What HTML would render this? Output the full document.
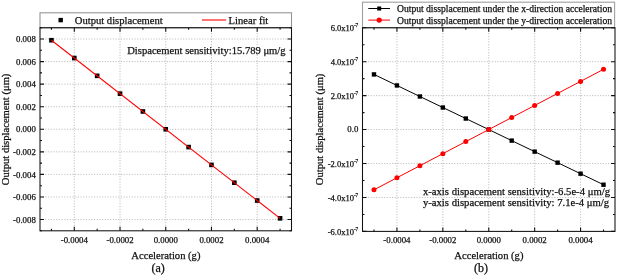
<!DOCTYPE html>
<html><head><meta charset="utf-8"><style>svg{will-change:transform} html,body{margin:0;padding:0;background:#fff;width:617px;height:276px;overflow:hidden;position:relative}</style></head>
<body>
<svg width="617" height="276" viewBox="0 0 617 276" style="position:absolute;left:0;top:0">
<rect width="617" height="276" fill="#fff"/>
<g font-family='"Liberation Serif", serif' fill="#111">
<line x1="74.30" y1="27.75" x2="74.30" y2="230.80" stroke="#b4b4b4" stroke-width="0.9" stroke-dasharray="1.1 1.6"/>
<line x1="120.02" y1="27.75" x2="120.02" y2="230.80" stroke="#b4b4b4" stroke-width="0.9" stroke-dasharray="1.1 1.6"/>
<line x1="165.75" y1="27.75" x2="165.75" y2="230.80" stroke="#b4b4b4" stroke-width="0.9" stroke-dasharray="1.1 1.6"/>
<line x1="211.48" y1="27.75" x2="211.48" y2="230.80" stroke="#b4b4b4" stroke-width="0.9" stroke-dasharray="1.1 1.6"/>
<line x1="257.20" y1="27.75" x2="257.20" y2="230.80" stroke="#b4b4b4" stroke-width="0.9" stroke-dasharray="1.1 1.6"/>
<line x1="40.00" y1="219.52" x2="291.50" y2="219.52" stroke="#b4b4b4" stroke-width="0.9" stroke-dasharray="1.1 1.6"/>
<line x1="40.00" y1="196.96" x2="291.50" y2="196.96" stroke="#b4b4b4" stroke-width="0.9" stroke-dasharray="1.1 1.6"/>
<line x1="40.00" y1="174.40" x2="291.50" y2="174.40" stroke="#b4b4b4" stroke-width="0.9" stroke-dasharray="1.1 1.6"/>
<line x1="40.00" y1="151.84" x2="291.50" y2="151.84" stroke="#b4b4b4" stroke-width="0.9" stroke-dasharray="1.1 1.6"/>
<line x1="40.00" y1="129.28" x2="291.50" y2="129.28" stroke="#b4b4b4" stroke-width="0.9" stroke-dasharray="1.1 1.6"/>
<line x1="40.00" y1="106.71" x2="291.50" y2="106.71" stroke="#b4b4b4" stroke-width="0.9" stroke-dasharray="1.1 1.6"/>
<line x1="40.00" y1="84.15" x2="291.50" y2="84.15" stroke="#b4b4b4" stroke-width="0.9" stroke-dasharray="1.1 1.6"/>
<line x1="40.00" y1="61.59" x2="291.50" y2="61.59" stroke="#b4b4b4" stroke-width="0.9" stroke-dasharray="1.1 1.6"/>
<line x1="40.00" y1="39.03" x2="291.50" y2="39.03" stroke="#b4b4b4" stroke-width="0.9" stroke-dasharray="1.1 1.6"/>
<rect x="40.00" y="12.8" width="251.50" height="14.95" fill="none" stroke="#959595" stroke-width="1.1"/>
<path d="M74.30 230.80V226.80M74.30 27.75V31.75M120.02 230.80V226.80M120.02 27.75V31.75M165.75 230.80V226.80M165.75 27.75V31.75M211.48 230.80V226.80M211.48 27.75V31.75M257.20 230.80V226.80M257.20 27.75V31.75M51.43 230.80V228.80M51.43 27.75V29.75M97.16 230.80V228.80M97.16 27.75V29.75M142.89 230.80V228.80M142.89 27.75V29.75M188.61 230.80V228.80M188.61 27.75V29.75M234.34 230.80V228.80M234.34 27.75V29.75M280.07 230.80V228.80M280.07 27.75V29.75M40.00 219.52H44.00M291.50 219.52H287.50M40.00 196.96H44.00M291.50 196.96H287.50M40.00 174.40H44.00M291.50 174.40H287.50M40.00 151.84H44.00M291.50 151.84H287.50M40.00 129.28H44.00M291.50 129.28H287.50M40.00 106.71H44.00M291.50 106.71H287.50M40.00 84.15H44.00M291.50 84.15H287.50M40.00 61.59H44.00M291.50 61.59H287.50M40.00 39.03H44.00M291.50 39.03H287.50M40.00 230.80H42.00M291.50 230.80H289.50M40.00 208.24H42.00M291.50 208.24H289.50M40.00 185.68H42.00M291.50 185.68H289.50M40.00 163.12H42.00M291.50 163.12H289.50M40.00 140.56H42.00M291.50 140.56H289.50M40.00 117.99H42.00M291.50 117.99H289.50M40.00 95.43H42.00M291.50 95.43H289.50M40.00 72.87H42.00M291.50 72.87H289.50M40.00 50.31H42.00M291.50 50.31H289.50M40.00 27.75H42.00M291.50 27.75H289.50" stroke="#111" stroke-width="1.1" fill="none"/>
<rect x="40.00" y="27.75" width="251.50" height="203.05" fill="none" stroke="#111" stroke-width="1.05"/>
<rect x="49.13" y="37.92" width="4.6" height="4.6" fill="#000"/>
<rect x="72.00" y="55.73" width="4.6" height="4.6" fill="#000"/>
<rect x="94.86" y="73.54" width="4.6" height="4.6" fill="#000"/>
<rect x="117.72" y="91.35" width="4.6" height="4.6" fill="#000"/>
<rect x="140.59" y="109.16" width="4.6" height="4.6" fill="#000"/>
<rect x="163.45" y="126.98" width="4.6" height="4.6" fill="#000"/>
<rect x="186.31" y="144.79" width="4.6" height="4.6" fill="#000"/>
<rect x="209.18" y="162.60" width="4.6" height="4.6" fill="#000"/>
<rect x="232.04" y="180.41" width="4.6" height="4.6" fill="#000"/>
<rect x="254.90" y="198.22" width="4.6" height="4.6" fill="#000"/>
<rect x="277.77" y="216.03" width="4.6" height="4.6" fill="#000"/>
<line x1="51.43" y1="40.22" x2="280.07" y2="218.33" stroke="#f00" stroke-width="1.1"/>
<text stroke="#111" stroke-width="0.25" x="35.8" y="222.67" font-size="8.8" text-anchor="end">-0.008</text>
<text stroke="#111" stroke-width="0.25" x="35.8" y="200.11" font-size="8.8" text-anchor="end">-0.006</text>
<text stroke="#111" stroke-width="0.25" x="35.8" y="177.55" font-size="8.8" text-anchor="end">-0.004</text>
<text stroke="#111" stroke-width="0.25" x="35.8" y="154.99" font-size="8.8" text-anchor="end">-0.002</text>
<text stroke="#111" stroke-width="0.25" x="35.8" y="132.43" font-size="8.8" text-anchor="end">0.000</text>
<text stroke="#111" stroke-width="0.25" x="35.8" y="109.86" font-size="8.8" text-anchor="end">0.002</text>
<text stroke="#111" stroke-width="0.25" x="35.8" y="87.30" font-size="8.8" text-anchor="end">0.004</text>
<text stroke="#111" stroke-width="0.25" x="35.8" y="64.74" font-size="8.8" text-anchor="end">0.006</text>
<text stroke="#111" stroke-width="0.25" x="35.8" y="42.18" font-size="8.8" text-anchor="end">0.008</text>
<text stroke="#111" stroke-width="0.25" x="74.30" y="243" font-size="8.8" text-anchor="middle">-0.0004</text>
<text stroke="#111" stroke-width="0.25" x="120.02" y="243" font-size="8.8" text-anchor="middle">-0.0002</text>
<text stroke="#111" stroke-width="0.25" x="165.75" y="243" font-size="8.8" text-anchor="middle">0.0000</text>
<text stroke="#111" stroke-width="0.25" x="211.48" y="243" font-size="8.8" text-anchor="middle">0.0002</text>
<text stroke="#111" stroke-width="0.25" x="257.20" y="243" font-size="8.8" text-anchor="middle">0.0004</text>
<rect x="58.5" y="17.9" width="4.4" height="4.4" fill="#000"/>
<text stroke="#111" stroke-width="0.25" x="74.8" y="23.6" font-size="10.6">Output displacement</text>
<line x1="201.9" y1="20" x2="226.1" y2="20" stroke="#f00" stroke-width="1.1"/>
<text stroke="#111" stroke-width="0.25" x="228.6" y="23.5" font-size="10.6">Linear fit</text>
<text stroke="#111" stroke-width="0.25" x="127.2" y="54.1" font-size="10.6">Dispacement sensitivity:15.789 μm/g</text>
<text stroke="#111" stroke-width="0.25" x="165.9" y="258.5" font-size="10.6" text-anchor="middle">Acceleration (g)</text>
<text stroke="#111" stroke-width="0.25" x="158.2" y="272.1" font-size="12" text-anchor="middle">(a)</text>
<text stroke="#111" stroke-width="0.25" transform="translate(9.1 129.4) rotate(-90)" x="0" y="0" font-size="10.6" text-anchor="middle">Output displacement (μm)</text>
<line x1="396.93" y1="27.75" x2="396.93" y2="231.40" stroke="#b4b4b4" stroke-width="0.9" stroke-dasharray="1.1 1.6"/>
<line x1="442.84" y1="27.75" x2="442.84" y2="231.40" stroke="#b4b4b4" stroke-width="0.9" stroke-dasharray="1.1 1.6"/>
<line x1="488.75" y1="27.75" x2="488.75" y2="231.40" stroke="#b4b4b4" stroke-width="0.9" stroke-dasharray="1.1 1.6"/>
<line x1="534.66" y1="27.75" x2="534.66" y2="231.40" stroke="#b4b4b4" stroke-width="0.9" stroke-dasharray="1.1 1.6"/>
<line x1="580.57" y1="27.75" x2="580.57" y2="231.40" stroke="#b4b4b4" stroke-width="0.9" stroke-dasharray="1.1 1.6"/>
<line x1="362.50" y1="197.46" x2="615.00" y2="197.46" stroke="#b4b4b4" stroke-width="0.9" stroke-dasharray="1.1 1.6"/>
<line x1="362.50" y1="163.52" x2="615.00" y2="163.52" stroke="#b4b4b4" stroke-width="0.9" stroke-dasharray="1.1 1.6"/>
<line x1="362.50" y1="129.57" x2="615.00" y2="129.57" stroke="#b4b4b4" stroke-width="0.9" stroke-dasharray="1.1 1.6"/>
<line x1="362.50" y1="95.63" x2="615.00" y2="95.63" stroke="#b4b4b4" stroke-width="0.9" stroke-dasharray="1.1 1.6"/>
<line x1="362.50" y1="61.69" x2="615.00" y2="61.69" stroke="#b4b4b4" stroke-width="0.9" stroke-dasharray="1.1 1.6"/>
<rect x="362.50" y="2.2" width="252.10" height="25.55" fill="none" stroke="#a0a0a0" stroke-width="1.1"/>
<path d="M396.93 231.40V227.40M396.93 27.75V31.75M442.84 231.40V227.40M442.84 27.75V31.75M488.75 231.40V227.40M488.75 27.75V31.75M534.66 231.40V227.40M534.66 27.75V31.75M580.57 231.40V227.40M580.57 27.75V31.75M373.98 231.40V229.40M373.98 27.75V29.75M419.89 231.40V229.40M419.89 27.75V29.75M465.80 231.40V229.40M465.80 27.75V29.75M511.70 231.40V229.40M511.70 27.75V29.75M557.61 231.40V229.40M557.61 27.75V29.75M603.52 231.40V229.40M603.52 27.75V29.75M362.50 231.40H366.50M615.00 231.40H611.00M362.50 197.46H366.50M615.00 197.46H611.00M362.50 163.52H366.50M615.00 163.52H611.00M362.50 129.57H366.50M615.00 129.57H611.00M362.50 95.63H366.50M615.00 95.63H611.00M362.50 61.69H366.50M615.00 61.69H611.00M362.50 27.75H366.50M615.00 27.75H611.00M362.50 214.43H364.50M615.00 214.43H613.00M362.50 180.49H364.50M615.00 180.49H613.00M362.50 146.55H364.50M615.00 146.55H613.00M362.50 112.60H364.50M615.00 112.60H613.00M362.50 78.66H364.50M615.00 78.66H613.00M362.50 44.72H364.50M615.00 44.72H613.00" stroke="#111" stroke-width="1.1" fill="none"/>
<rect x="362.50" y="27.75" width="252.50" height="203.65" fill="none" stroke="#111" stroke-width="1.05"/>
<polyline points="373.98,74.42 396.93,85.45 419.89,96.48 442.84,107.51 465.80,118.54 488.75,129.57 511.70,140.61 534.66,151.64 557.61,162.67 580.57,173.70 603.52,184.73" fill="none" stroke="#000" stroke-width="1"/>
<rect x="371.78" y="72.22" width="4.4" height="4.4" fill="#000"/>
<rect x="394.73" y="83.25" width="4.4" height="4.4" fill="#000"/>
<rect x="417.69" y="94.28" width="4.4" height="4.4" fill="#000"/>
<rect x="440.64" y="105.31" width="4.4" height="4.4" fill="#000"/>
<rect x="463.60" y="116.34" width="4.4" height="4.4" fill="#000"/>
<rect x="486.55" y="127.37" width="4.4" height="4.4" fill="#000"/>
<rect x="509.50" y="138.41" width="4.4" height="4.4" fill="#000"/>
<rect x="532.46" y="149.44" width="4.4" height="4.4" fill="#000"/>
<rect x="555.41" y="160.47" width="4.4" height="4.4" fill="#000"/>
<rect x="578.37" y="171.50" width="4.4" height="4.4" fill="#000"/>
<rect x="601.32" y="182.53" width="4.4" height="4.4" fill="#000"/>
<polyline points="373.98,189.82 396.93,177.77 419.89,165.72 442.84,153.67 465.80,141.62 488.75,129.57 511.70,117.53 534.66,105.48 557.61,93.43 580.57,81.38 603.52,69.33" fill="none" stroke="#f00" stroke-width="1"/>
<circle cx="373.98" cy="189.82" r="2.5" fill="#f00"/>
<circle cx="396.93" cy="177.77" r="2.5" fill="#f00"/>
<circle cx="419.89" cy="165.72" r="2.5" fill="#f00"/>
<circle cx="442.84" cy="153.67" r="2.5" fill="#f00"/>
<circle cx="465.80" cy="141.62" r="2.5" fill="#f00"/>
<circle cx="488.75" cy="129.57" r="2.5" fill="#f00"/>
<circle cx="511.70" cy="117.53" r="2.5" fill="#f00"/>
<circle cx="534.66" cy="105.48" r="2.5" fill="#f00"/>
<circle cx="557.61" cy="93.43" r="2.5" fill="#f00"/>
<circle cx="580.57" cy="81.38" r="2.5" fill="#f00"/>
<circle cx="603.52" cy="69.33" r="2.5" fill="#f00"/>
<text stroke="#111" stroke-width="0.25" x="354.0" y="234.60" font-size="8.5" text-anchor="end">-6.0x10</text>
<text stroke="#111" stroke-width="0.25" x="353.9" y="230.70" font-size="5.2">-7</text>
<text stroke="#111" stroke-width="0.25" x="354.0" y="200.66" font-size="8.5" text-anchor="end">-4.0x10</text>
<text stroke="#111" stroke-width="0.25" x="353.9" y="196.76" font-size="5.2">-7</text>
<text stroke="#111" stroke-width="0.25" x="354.0" y="166.72" font-size="8.5" text-anchor="end">-2.0x10</text>
<text stroke="#111" stroke-width="0.25" x="353.9" y="162.82" font-size="5.2">-7</text>
<text stroke="#111" stroke-width="0.25" x="358.3" y="132.47" font-size="8.8" text-anchor="end">0.0</text>
<text stroke="#111" stroke-width="0.25" x="354.0" y="98.83" font-size="8.5" text-anchor="end">2.0x10</text>
<text stroke="#111" stroke-width="0.25" x="353.9" y="94.93" font-size="5.2">-7</text>
<text stroke="#111" stroke-width="0.25" x="354.0" y="64.89" font-size="8.5" text-anchor="end">4.0x10</text>
<text stroke="#111" stroke-width="0.25" x="353.9" y="60.99" font-size="5.2">-7</text>
<text stroke="#111" stroke-width="0.25" x="354.0" y="30.95" font-size="8.5" text-anchor="end">6.0x10</text>
<text stroke="#111" stroke-width="0.25" x="353.9" y="27.05" font-size="5.2">-7</text>
<text stroke="#111" stroke-width="0.25" x="396.93" y="243" font-size="8.8" text-anchor="middle">-0.0004</text>
<text stroke="#111" stroke-width="0.25" x="442.84" y="243" font-size="8.8" text-anchor="middle">-0.0002</text>
<text stroke="#111" stroke-width="0.25" x="488.75" y="243" font-size="8.8" text-anchor="middle">0.0000</text>
<text stroke="#111" stroke-width="0.25" x="534.66" y="243" font-size="8.8" text-anchor="middle">0.0002</text>
<text stroke="#111" stroke-width="0.25" x="580.57" y="243" font-size="8.8" text-anchor="middle">0.0004</text>
<line x1="368.3" y1="8.5" x2="390" y2="8.5" stroke="#000" stroke-width="1"/>
<rect x="377.2" y="6.5" width="4" height="4" fill="#000"/>
<line x1="368.3" y1="20.1" x2="390" y2="20.1" stroke="#f00" stroke-width="1"/>
<circle cx="379.2" cy="20.1" r="2.6" fill="#f00"/>
<text stroke="#111" stroke-width="0.25" x="397" y="12" font-size="9.6">Output dissplacement under the x-direction acceleration</text>
<text stroke="#111" stroke-width="0.25" x="397" y="24.1" font-size="9.6">Output dissplacement under the y-direction acceleration</text>
<text stroke="#111" stroke-width="0.25" x="422.9" y="195" font-size="10.68">x-axis dispacement sensitivity:-6.5e-4 μm/g</text>
<text stroke="#111" stroke-width="0.25" x="422.9" y="205.5" font-size="10.68">y-axis dispacement sensitivity: 7.1e-4 μm/g</text>
<text stroke="#111" stroke-width="0.25" x="488.9" y="258.9" font-size="10.6" text-anchor="middle">Acceleration (g)</text>
<text stroke="#111" stroke-width="0.25" x="480.9" y="272.1" font-size="12" text-anchor="middle">(b)</text>
<text stroke="#111" stroke-width="0.25" transform="translate(322.8 129.4) rotate(-90)" x="0" y="0" font-size="10.6" text-anchor="middle">Output displacement (μm)</text>
</g></svg>
</body></html>
